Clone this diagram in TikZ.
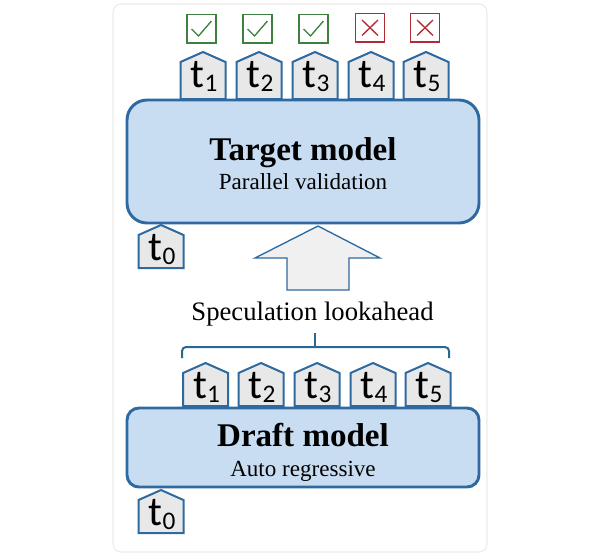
\documentclass[tikz,border=0pt]{standalone}
\usepackage{fontspec}
\setmainfont{Liberation Serif}
\newfontfamily\tokfont{Carlito}
\usepackage{tikz}

\definecolor{modelblue}{RGB}{46,105,160}
\definecolor{modelfill}{RGB}{201,221,242}
\definecolor{tokfill}{RGB}{232,232,232}
\definecolor{arrowfill}{RGB}{240,240,240}
\definecolor{okgreen}{RGB}{62,128,62}
\definecolor{badred}{RGB}{178,42,52}
\definecolor{bracecol}{RGB}{40,105,145}

\begin{document}
\begin{tikzpicture}[x=0.75pt,y=0.75pt,yscale=-1,xscale=1,
  model/.style={draw=modelblue,fill=modelfill,line width=2.2pt,inner sep=0pt},
  tok/.style={draw=modelblue,fill=tokfill,line width=1.5pt,line join=miter},
  toktext/.style={anchor=base,inner sep=0.75pt,font=\tokfont\fontsize{31}{31}\selectfont},
  title/.style={anchor=base,inner sep=0.75pt,font=\fontsize{24.8}{28}\selectfont\bfseries},
  subtitle/.style={anchor=base,inner sep=0.75pt,font=\fontsize{17.3}{20}\selectfont},
  okbox/.style={draw=okgreen,line width=1pt},
  badbox/.style={draw=badred,line width=1pt}]
\useasboundingbox (0,0) rectangle (595,558);

%Shape: Rectangle [frame]
\draw [draw=black!8,line width=0.8pt,rounded corners=6pt] (113,4) rectangle (487,552);

%Shape: Rectangle [target model]
\node [model,minimum width=264pt,minimum height=92.25pt,rounded corners=15pt] (target) at (303,161.5) {};
%Shape: Rectangle [draft model]
\node [model,minimum width=264pt,minimum height=59.25pt,rounded corners=9pt] (draft) at (303,447.5) {};

% Text Node
\node [title] (targettitle) at (303,160) {Target model};
% Text Node
\node [subtitle] (targetsub) at (303,189) {Parallel validation};
% Text Node
\node [title] (drafttitle) at (303,446) {Draft model};
% Text Node
\node [subtitle] (draftsub) at (303,476) {Auto regressive};

%Tokens above the target model
\foreach \i/\x in {1/203,2/259,3/315,4/371,5/426} {
  \draw [tok] (\x-22.5,99) -- (\x-22.5,62) -- (\x,52) -- (\x+22.5,62) -- (\x+22.5,99) -- cycle;
  \node [toktext] (vt\i) at (\x+1,87) {t\raisebox{-3.5pt}{\fontsize{19}{19}\selectfont\i}};
}
%Tokens above the draft model
\foreach \i/\x in {1/205.5,2/261,3/317,4/373,5/428} {
  \draw [tok] (\x-22.5,406) -- (\x-22.5,373) -- (\x,363) -- (\x+22.5,373) -- (\x+22.5,406) -- cycle;
  \node [toktext] (dt\i) at (\x+1,398) {t\raisebox{-3.5pt}{\fontsize{19}{19}\selectfont\i}};
}
%Shape: Pentagon [t0 upper]
\draw [tok] (138.5,268) -- (138.5,235) -- (161,225) -- (183.5,235) -- (183.5,268) -- cycle;
\node [toktext] (vt0) at (162,260) {t\raisebox{-3.5pt}{\fontsize{19}{19}\selectfont 0}};
%Shape: Pentagon [t0 lower]
\draw [tok] (138.5,533) -- (138.5,500) -- (161,490) -- (183.5,500) -- (183.5,533) -- cycle;
\node [toktext] (dt0) at (162,525) {t\raisebox{-3.5pt}{\fontsize{19}{19}\selectfont 0}};

%Check boxes
\foreach \x in {201.5,257.5,313.5} {
  \draw [okbox] (\x-14.5,14.5) rectangle (\x+14.5,43);
  \draw [okbox] (\x-10,29) -- (\x-3,36) -- (\x+10,21);
}
\foreach \x in {370,425} {
  \draw [badbox] (\x-14.5,13.5) rectangle (\x+14.5,42);
  \draw [badbox] (\x-8,20) -- (\x+8,35.5) (\x-8,35.5) -- (\x+8,20);
}

%Shape: Up Arrow
\draw [draw=modelblue,fill=arrowfill,line width=1pt,line join=miter] (318,226) -- (380,258) -- (349,258) -- (349,290) -- (287,290) -- (287,258) -- (255,258) -- cycle;

% Text Node
\node [anchor=base,inner sep=0.75pt,font=\fontsize{20}{24}\selectfont] (spec) at (312.5,320) {Speculation lookahead};

%Brace
\draw [draw=bracecol,line width=1.5pt,rounded corners=3pt] (182,358) -- (182,347) -- (449,347) -- (449,358);
\draw [draw=bracecol,line width=1.5pt] (315,347) -- (315,333);

\end{tikzpicture}
\end{document}
